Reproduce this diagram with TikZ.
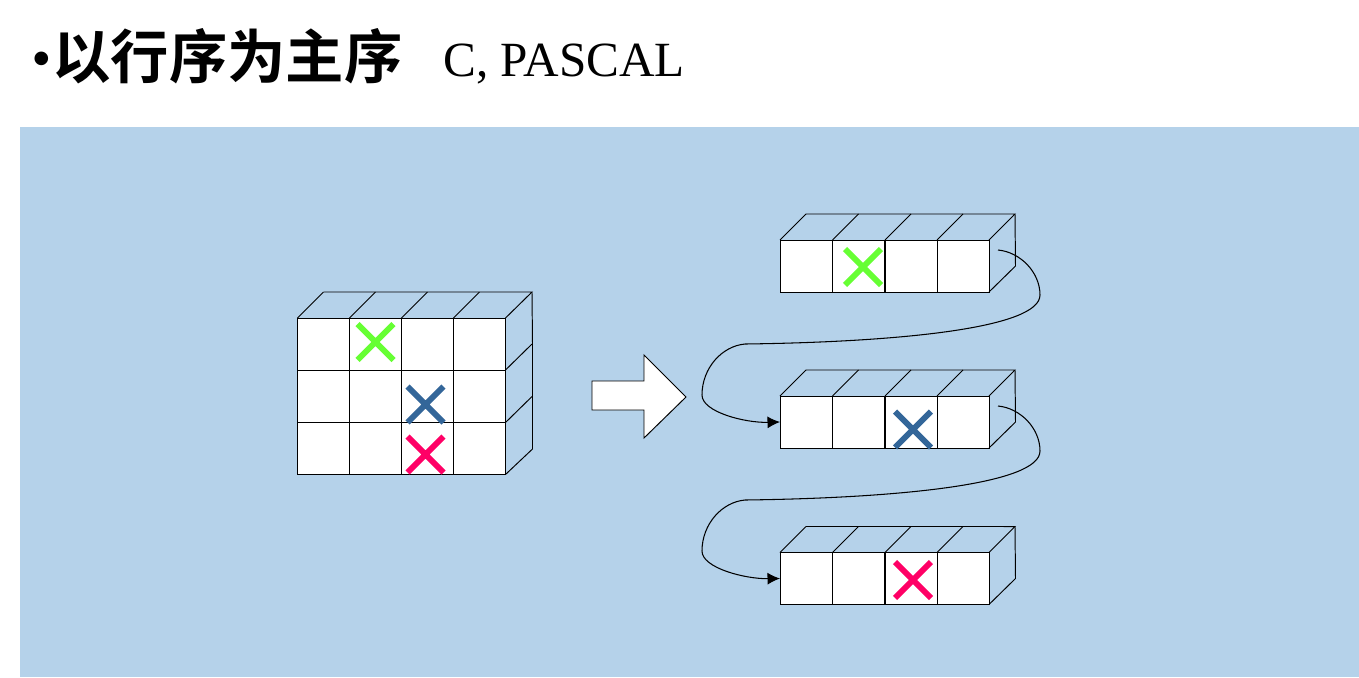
\documentclass[tikz,border=0pt]{standalone}
\usepackage{fontspec}
\setmainfont{Liberation Serif}
\newfontfamily\cjkbold[BoldFont=Noto Sans CJK SC Bold]{Noto Sans CJK SC}
\newfontfamily\bulletfont{Liberation Sans}
\usetikzlibrary{arrows.meta,shapes.misc}

\definecolor{panelblue}{RGB}{181,210,234}
\definecolor{markgreen}{RGB}{102,255,51}
\definecolor{markblue}{RGB}{51,102,153}
\definecolor{markred}{RGB}{255,0,102}

\tikzset{
    cell/.style={draw,fill=white,line width=0.55pt,minimum width=1.04cm,minimum height=1.04cm,inner sep=0pt,outer sep=0pt},
    crossmark/.style={cross out,line width=3.4pt,minimum size=0.72cm,inner sep=0pt,outer sep=0pt},
    edge/.style={line width=0.55pt},
    link/.style={line width=0.6pt,-{Latex[length=0.25cm,width=0.24cm]}}
}

\begin{document}
\begin{tikzpicture}[x=0.02cm,y=-0.02cm]
    \useasboundingbox (0,0) rectangle (1359,677);
    \fill[white] (0,0) rectangle (1359,677);
    \fill[panelblue] (20,127) rectangle (1359,677);

    \node[anchor=center] (dot) at (42,63) {\bulletfont\fontsize{27pt}{27pt}\selectfont\textbf{•}};
    \node[anchor=west,inner sep=0pt] (heading) at (52,56) {\cjkbold\fontsize{33.2pt}{36pt}\selectfont\textbf{以行序为主序}};
    \node[anchor=west,inner sep=0pt] (langs) at (443,64) {\fontsize{28pt}{30pt}\selectfont C, PASCAL};

    % matrix on the left
    \foreach \r/\y in {1/344,2/396,3/448.5}
        \foreach \c/\x in {1/323.5,2/375.5,3/427.5,4/479.5}
            \node[cell] (m\r\c) at (\x,\y) {};
    \foreach \c in {1,2,3,4}
        \draw[edge] (m1\c.north west) -- ++(26,-26);
    \draw[edge] (m14.north east) -- ++(26.5,-26) -- (323.5,292);
    \draw[edge] (m14.north east) ++(26.5,-26) -- ++(0.5,52) -- ++(0,105) -- (m34.south east);
    \draw[edge] (m24.north east) -- ++(26.5,-26);
    \draw[edge] (m34.north east) -- ++(26.5,-26);

    \node[crossmark,draw=markgreen] (mgreen) at (375.5,342) {};
    \node[crossmark,draw=markblue] (mblue) at (425.5,404.5) {};
    \node[crossmark,draw=markred] (mred) at (425.5,454.5) {};

    % arrow in the middle
    \draw[edge,fill=white] (592,381) -- (644,381) -- (644,355) -- (686,397)
        -- (644,438) -- (644,410) -- (592,410) -- cycle;

    % three rows on the right
    \foreach \r/\y in {1/266,2/422,3/578.5}{
        \foreach \c/\x in {1/806,2/858.5,3/911,4/963}
            \node[cell] (r\r\c) at (\x,\y) {};
        \foreach \c in {1,2,3,4}
            \draw[edge] (r\r\c.north west) -- ++(26,-26);
        \draw[edge] (r\r4.north east) -- ++(26,-26) -- (806,\y-52);
        \draw[edge] (r\r4.north east) ++(26,-26) -- ++(0.5,52) -- (r\r4.south east);
    }

    \node[crossmark,draw=markgreen] (rgreen) at (863,267) {};
    \node[crossmark,draw=markblue] (rblue) at (913,429.5) {};
    \node[crossmark,draw=markred] (rred) at (913,580) {};

    \coordinate (out1) at (998,250);
    \coordinate (out2) at (998,406);
    \draw[link] (out1) .. controls (1020,252) and (1040,272) .. (1040,295)
        .. controls (1040,328) and (900,342) .. (745,344)
        .. controls (722,346) and (702,368) .. (702,395)
        .. controls (702,412) and (745,423) .. (r21.west);
    \draw[link] (out2) .. controls (1020,408) and (1040,428) .. (1040,451)
        .. controls (1040,484) and (900,498) .. (745,500)
        .. controls (722,502) and (702,524) .. (702,551)
        .. controls (702,568) and (745,579) .. (r31.west);
\end{tikzpicture}
\end{document}
